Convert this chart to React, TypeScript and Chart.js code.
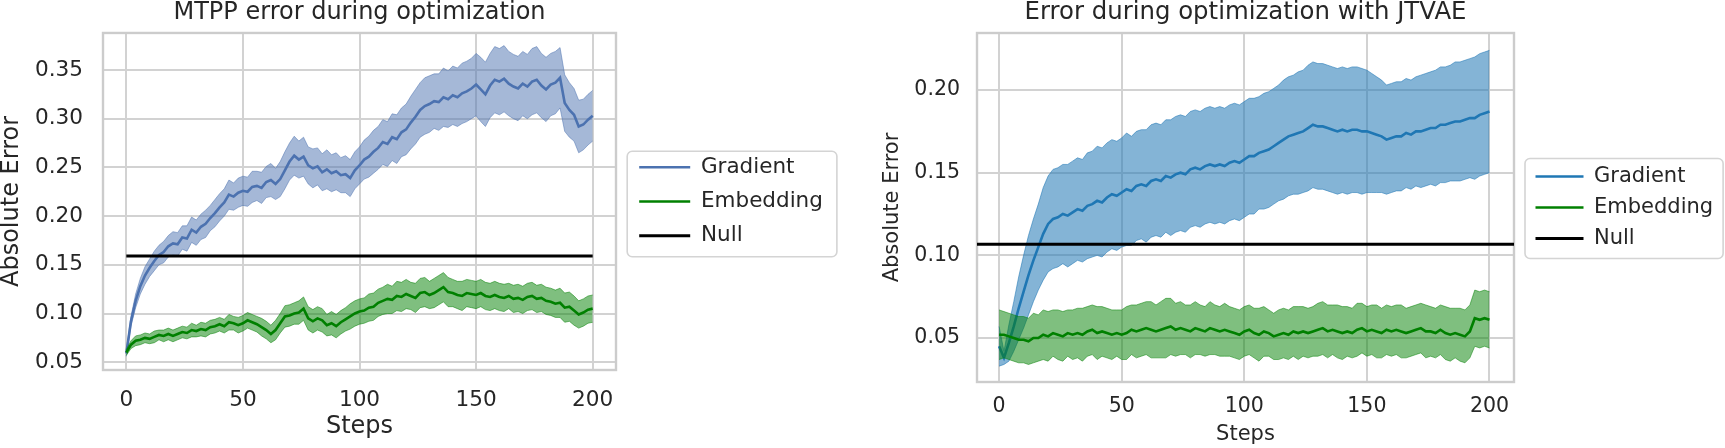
import { useEffect, useRef } from 'react';
import { Chart, registerables } from 'chart.js';

Chart.register(...registerables);
Chart.defaults.font.family = "'DejaVu Sans', sans-serif";
Chart.defaults.color = '#262626';

const TEXT = '#262626';
const GRID = '#d2d2d2';
const SPINE = '#cccccc';
const GREEN = '#008000';
const GREEN_BAND = 'rgba(0, 128, 0, 0.5)';

// optimisation steps (sampled every 2nd step)
const steps = [
  0, 2, 4, 6, 8, 10, 12, 14, 16, 18,
  20, 22, 24, 26, 28, 30, 32, 34, 36, 38,
  40, 42, 44, 46, 48, 50, 52, 54, 56, 58,
  60, 62, 64, 66, 68, 70, 72, 74, 76, 78,
  80, 82, 84, 86, 88, 90, 92, 94, 96, 98,
  100, 102, 104, 106, 108, 110, 112, 114, 116, 118,
  120, 122, 124, 126, 128, 130, 132, 134, 136, 138,
  140, 142, 144, 146, 148, 150, 152, 154, 156, 158,
  160, 162, 164, 166, 168, 170, 172, 174, 176, 178,
  180, 182, 184, 186, 188, 190, 192, 194, 196, 198,
  200,
];

const seriesNames = ['Gradient', 'Embedding', 'Null'];
const xTicks = [0, 50, 100, 150, 200];

// --- MTPP panel ---
const mtppGradient = [
  0.059, 0.092, 0.113, 0.128, 0.139, 0.147, 0.154, 0.160, 0.163, 0.169,
  0.172, 0.171, 0.178, 0.177, 0.186, 0.183, 0.189, 0.192, 0.198, 0.203,
  0.209, 0.214, 0.222, 0.220, 0.224, 0.226, 0.225, 0.230, 0.231, 0.229,
  0.235, 0.237, 0.233, 0.238, 0.247, 0.256, 0.262, 0.258, 0.261, 0.252,
  0.249, 0.251, 0.245, 0.248, 0.244, 0.246, 0.242, 0.243, 0.239, 0.247,
  0.252, 0.258, 0.261, 0.266, 0.270, 0.276, 0.274, 0.281, 0.279, 0.286,
  0.289, 0.296, 0.302, 0.309, 0.313, 0.315, 0.318, 0.317, 0.322, 0.320,
  0.324, 0.322, 0.326, 0.328, 0.331, 0.335, 0.330, 0.325, 0.334, 0.340,
  0.338, 0.341, 0.336, 0.333, 0.331, 0.336, 0.333, 0.338, 0.340, 0.334,
  0.330, 0.335, 0.337, 0.342, 0.316, 0.309, 0.304, 0.292, 0.294, 0.299,
  0.303,
];
const mtppGradientStd = [
  0.003, 0.005, 0.007, 0.008, 0.009, 0.009, 0.010, 0.010, 0.011, 0.011,
  0.012, 0.012, 0.012, 0.013, 0.013, 0.013, 0.013, 0.014, 0.013, 0.014,
  0.014, 0.014, 0.015, 0.014, 0.015, 0.015, 0.015, 0.016, 0.015, 0.016,
  0.016, 0.017, 0.016, 0.018, 0.019, 0.019, 0.020, 0.019, 0.020, 0.019,
  0.020, 0.019, 0.019, 0.020, 0.019, 0.019, 0.018, 0.019, 0.019, 0.019,
  0.019, 0.020, 0.021, 0.022, 0.022, 0.023, 0.023, 0.024, 0.025, 0.025,
  0.026, 0.027, 0.028, 0.028, 0.029, 0.029, 0.028, 0.029, 0.030, 0.029,
  0.030, 0.030, 0.031, 0.031, 0.031, 0.032, 0.033, 0.033, 0.033, 0.034,
  0.034, 0.034, 0.033, 0.033, 0.033, 0.033, 0.033, 0.034, 0.034, 0.033,
  0.033, 0.032, 0.032, 0.031, 0.029, 0.028, 0.027, 0.027, 0.026, 0.026,
  0.026,
];
const mtppEmbedding = [
  0.060, 0.068, 0.072, 0.073, 0.075, 0.074, 0.076, 0.078, 0.077, 0.079,
  0.077, 0.079, 0.081, 0.080, 0.083, 0.082, 0.084, 0.083, 0.086, 0.087,
  0.089, 0.087, 0.091, 0.090, 0.088, 0.090, 0.093, 0.091, 0.089, 0.086,
  0.083, 0.079, 0.083, 0.090, 0.097, 0.098, 0.100, 0.101, 0.105, 0.095,
  0.092, 0.095, 0.093, 0.088, 0.090, 0.087, 0.091, 0.094, 0.097, 0.100,
  0.102, 0.103, 0.106, 0.107, 0.111, 0.113, 0.115, 0.114, 0.118, 0.117,
  0.120, 0.118, 0.116, 0.121, 0.122, 0.119, 0.121, 0.124, 0.127, 0.122,
  0.121, 0.119, 0.118, 0.121, 0.120, 0.119, 0.121, 0.118, 0.117, 0.119,
  0.117, 0.116, 0.118, 0.115, 0.116, 0.114, 0.117, 0.118, 0.115, 0.116,
  0.113, 0.112, 0.110, 0.111, 0.106, 0.107, 0.103, 0.099, 0.101, 0.104,
  0.105,
];
const mtppEmbeddingStd = [
  0.003, 0.004, 0.005, 0.005, 0.005, 0.005, 0.006, 0.005, 0.006, 0.006,
  0.006, 0.006, 0.006, 0.006, 0.007, 0.006, 0.007, 0.007, 0.007, 0.007,
  0.007, 0.007, 0.008, 0.007, 0.008, 0.008, 0.008, 0.008, 0.008, 0.009,
  0.009, 0.009, 0.010, 0.010, 0.011, 0.011, 0.011, 0.012, 0.012, 0.012,
  0.012, 0.012, 0.012, 0.011, 0.012, 0.012, 0.012, 0.012, 0.013, 0.013,
  0.013, 0.013, 0.014, 0.014, 0.014, 0.014, 0.015, 0.014, 0.015, 0.015,
  0.015, 0.014, 0.015, 0.015, 0.015, 0.014, 0.015, 0.015, 0.015, 0.015,
  0.014, 0.014, 0.015, 0.014, 0.014, 0.014, 0.014, 0.014, 0.014, 0.014,
  0.014, 0.014, 0.013, 0.014, 0.014, 0.014, 0.014, 0.014, 0.014, 0.014,
  0.014, 0.014, 0.014, 0.015, 0.015, 0.015, 0.015, 0.014, 0.014, 0.014,
  0.014,
];
const mtppNull = 0.159;
const mtppNullSpan = [0, 200];
const mtppXLimits = [-10, 210];
const mtppYLimits = [0.042, 0.388];
const mtppYTicks = [0.05, 0.1, 0.15, 0.2, 0.25, 0.3, 0.35];

// --- JTVAE panel ---
const jtvaeGradient = [
  0.045, 0.038, 0.047, 0.057, 0.068, 0.078, 0.088, 0.097, 0.105, 0.113,
  0.119, 0.122, 0.123, 0.125, 0.124, 0.126, 0.128, 0.127, 0.130, 0.131,
  0.133, 0.132, 0.135, 0.137, 0.136, 0.138, 0.140, 0.139, 0.142, 0.143,
  0.142, 0.145, 0.146, 0.145, 0.148, 0.147, 0.149, 0.150, 0.149, 0.152,
  0.153, 0.152, 0.154, 0.155, 0.154, 0.155, 0.154, 0.156, 0.157, 0.156,
  0.158, 0.160, 0.160, 0.162, 0.163, 0.164, 0.166, 0.168, 0.170, 0.172,
  0.173, 0.174, 0.175, 0.177, 0.179, 0.178, 0.178, 0.177, 0.176, 0.175,
  0.176, 0.175, 0.176, 0.176, 0.175, 0.175, 0.174, 0.173, 0.172, 0.170,
  0.171, 0.172, 0.172, 0.174, 0.173, 0.175, 0.175, 0.176, 0.177, 0.177,
  0.179, 0.179, 0.180, 0.181, 0.181, 0.182, 0.183, 0.183, 0.185, 0.186,
  0.187,
];
const jtvaeGradientStd = [
  0.012, 0.004, 0.011, 0.015, 0.019, 0.022, 0.024, 0.025, 0.026, 0.028,
  0.029, 0.030, 0.030, 0.030, 0.031, 0.031, 0.031, 0.031, 0.032, 0.032,
  0.033, 0.033, 0.033, 0.033, 0.033, 0.033, 0.034, 0.033, 0.033, 0.033,
  0.034, 0.034, 0.034, 0.034, 0.034, 0.035, 0.035, 0.035, 0.035, 0.035,
  0.035, 0.035, 0.035, 0.035, 0.035, 0.035, 0.035, 0.035, 0.035, 0.035,
  0.035, 0.035, 0.035, 0.034, 0.035, 0.035, 0.035, 0.035, 0.036, 0.036,
  0.036, 0.037, 0.037, 0.038, 0.038, 0.038, 0.038, 0.038, 0.038, 0.038,
  0.038, 0.038, 0.038, 0.038, 0.038, 0.037, 0.036, 0.035, 0.034, 0.033,
  0.033, 0.033, 0.033, 0.033, 0.033, 0.033, 0.034, 0.034, 0.034, 0.035,
  0.035, 0.035, 0.035, 0.036, 0.036, 0.036, 0.036, 0.037, 0.037, 0.037,
  0.037,
];
const jtvaeEmbedding = [
  0.052, 0.052, 0.051, 0.050, 0.049, 0.049, 0.048, 0.050, 0.050, 0.052,
  0.051, 0.053, 0.052, 0.051, 0.053, 0.052, 0.053, 0.052, 0.054, 0.055,
  0.053, 0.054, 0.053, 0.052, 0.053, 0.052, 0.053, 0.055, 0.054, 0.055,
  0.056, 0.055, 0.054, 0.055, 0.056, 0.057, 0.055, 0.056, 0.055, 0.054,
  0.056, 0.055, 0.054, 0.056, 0.055, 0.054, 0.055, 0.054, 0.053, 0.052,
  0.054, 0.055, 0.053, 0.052, 0.054, 0.053, 0.051, 0.052, 0.053, 0.052,
  0.054, 0.053, 0.054, 0.053, 0.054, 0.055, 0.056, 0.054, 0.055, 0.054,
  0.053, 0.054, 0.053, 0.055, 0.056, 0.054, 0.055, 0.054, 0.053, 0.055,
  0.054, 0.055, 0.054, 0.053, 0.054, 0.055, 0.056, 0.054, 0.054, 0.053,
  0.055, 0.053, 0.052, 0.053, 0.052, 0.051, 0.054, 0.062, 0.061, 0.062,
  0.061,
];
const jtvaeEmbeddingStd = [
  0.015, 0.014, 0.014, 0.014, 0.014, 0.014, 0.014, 0.015, 0.014, 0.015,
  0.015, 0.014, 0.015, 0.015, 0.014, 0.015, 0.015, 0.016, 0.015, 0.015,
  0.016, 0.015, 0.015, 0.015, 0.014, 0.015, 0.016, 0.015, 0.016, 0.016,
  0.016, 0.017, 0.016, 0.017, 0.018, 0.017, 0.016, 0.016, 0.015, 0.016,
  0.016, 0.015, 0.015, 0.016, 0.015, 0.015, 0.016, 0.015, 0.015, 0.015,
  0.015, 0.015, 0.015, 0.016, 0.015, 0.014, 0.014, 0.015, 0.015, 0.015,
  0.015, 0.016, 0.015, 0.015, 0.015, 0.016, 0.016, 0.016, 0.015, 0.016,
  0.016, 0.015, 0.015, 0.016, 0.015, 0.015, 0.015, 0.016, 0.015, 0.015,
  0.015, 0.015, 0.016, 0.015, 0.015, 0.015, 0.015, 0.016, 0.015, 0.015,
  0.015, 0.016, 0.016, 0.015, 0.016, 0.016, 0.016, 0.017, 0.017, 0.017,
  0.017,
];
const jtvaeNull = 0.1067;
const jtvaeXLimits = [-9, 210];
const jtvaeNullSpan = jtvaeXLimits; // axhline across the whole axes
const jtvaeYLimits = [0.0234, 0.2345];
const jtvaeYTicks = [0.05, 0.1, 0.15, 0.2];

// draws the light-grey axes frame and the rounded legend box
const framePlugin = {
  id: 'frame',
  beforeDatasetsDraw(chart: any) {
    const { ctx, chartArea: a } = chart;
    ctx.save();
    ctx.strokeStyle = SPINE;
    ctx.lineWidth = 2.4;
    ctx.strokeRect(a.left, a.top, a.right - a.left, a.bottom - a.top);
    ctx.restore();
  },
  afterDraw(chart: any, _args: any, opts: any) {
    const boxes = chart.legend?.legendHitBoxes;
    if (!boxes || !boxes.length) return;
    const { ctx } = chart;
    const first = boxes[0];
    const last = boxes[boxes.length - 1];
    const x0 = Math.min(...boxes.map((b: any) => b.left)) - opts.padL;
    const x1 = Math.max(...boxes.map((b: any) => b.left + b.width)) + opts.padR;
    const y0 = first.top + first.height / 2 - opts.padT;
    const y1 = last.top + last.height / 2 + opts.padB;
    ctx.save();
    ctx.strokeStyle = '#d4d4d4';
    ctx.lineWidth = 1.6;
    ctx.beginPath();
    ctx.roundRect(x0, y0, x1 - x0, y1 - y0, 5);
    ctx.stroke();
    ctx.restore();
  },
};

interface PanelProps {
  left: number;
  width: number;
  title: string;
  gradient: number[];
  gradientStd: number[];
  embedding: number[];
  embeddingStd: number[];
  nullLevel: number;
  nullSpan: number[];
  xLimits: number[];
  yLimits: number[];
  yTicks: number[];
  gradientColor: string;
  gradientBand: string;
  plotRight: number;
  titleSize: number;
  titlePad: { top: number; bottom: number };
  yAxisWidth: number;
  yTickPad: number;
  yTitleSize: number;
  yTitlePad: number;
  xAxisHeight: number;
  xTickPad: number;
  tickSize: number;
  xTitleSize: number;
  xTitlePad: number;
  legendSize: number;
  legendPad: number;
  legendLine: number;
  legendGap: number;
  legendFrame: { padL: number; padR: number; padT: number; padB: number };
}

function Panel(p: PanelProps) {
  const canvasRef = useRef<HTMLCanvasElement>(null);

  useEffect(() => {
    if (!canvasRef.current) return;

    const points = (ys: number[], sign = 0, err?: number[]) =>
      steps.map((x, i) => ({ x, y: ys[i] + sign * (err ? err[i] : 0) }));

    const config: any = {
      type: 'line',
      data: {
        datasets: [
          { label: seriesNames[0], data: points(p.gradient), borderColor: p.gradientColor, borderWidth: 2.6, order: 3 },
          { label: seriesNames[1], data: points(p.embedding), borderColor: GREEN, borderWidth: 2.6, order: 1 },
          {
            label: seriesNames[2],
            data: p.nullSpan.map((x) => ({ x, y: p.nullLevel })),
            borderColor: '#000000',
            borderWidth: 3,
            order: 0,
          },
          {
            label: 'gradient upper',
            data: points(p.gradient, 1, p.gradientStd),
            borderColor: p.gradientBand,
            backgroundColor: p.gradientBand,
            borderWidth: 1,
            fill: 4,
            order: 4,
          },
          { label: 'gradient lower', data: points(p.gradient, -1, p.gradientStd), borderColor: p.gradientBand, borderWidth: 1, fill: false, order: 4 },
          {
            label: 'embedding upper',
            data: points(p.embedding, 1, p.embeddingStd),
            borderColor: GREEN_BAND,
            backgroundColor: GREEN_BAND,
            borderWidth: 1,
            fill: 6,
            order: 2,
          },
          { label: 'embedding lower', data: points(p.embedding, -1, p.embeddingStd), borderColor: GREEN_BAND, borderWidth: 1, fill: false, order: 2 },
        ],
      },
      options: {
        animation: false,
        responsive: true,
        maintainAspectRatio: false,
        events: [],
        layout: { padding: { left: 0, right: 0, top: 0, bottom: 0 } },
        elements: { point: { radius: 0 }, line: { tension: 0 } },
        scales: {
          x: {
            type: 'linear',
            min: p.xLimits[0],
            max: p.xLimits[1],
            afterBuildTicks: (s: any) => { s.ticks = xTicks.map((value) => ({ value })); },
            afterFit: (s: any) => { s.height = p.xAxisHeight; },
            grid: { color: GRID, lineWidth: 2, drawTicks: false },
            border: { display: false },
            ticks: {
              padding: p.xTickPad,
              color: TEXT,
              font: { size: p.tickSize, lineHeight: 1.2 },
              maxRotation: 0,
              autoSkip: false,
              callback: (v: any) => String(v),
            },
            title: {
              display: true,
              text: 'Steps',
              color: TEXT,
              font: { size: p.xTitleSize, lineHeight: 1 },
              padding: { top: 0, bottom: p.xTitlePad },
            },
          },
          y: {
            type: 'linear',
            position: 'left',
            min: p.yLimits[0],
            max: p.yLimits[1],
            afterBuildTicks: (s: any) => { s.ticks = p.yTicks.map((value) => ({ value })); },
            afterFit: (s: any) => { s.width = p.yAxisWidth; },
            grid: { color: GRID, lineWidth: 2, drawTicks: false },
            border: { display: false },
            ticks: {
              padding: p.yTickPad,
              color: TEXT,
              font: { size: p.tickSize, lineHeight: 1.2 },
              autoSkip: false,
              callback: (v: any) => Number(v).toFixed(2),
            },
            title: {
              display: true,
              text: 'Absolute Error',
              color: TEXT,
              font: { size: p.yTitleSize, lineHeight: 1 },
              padding: { top: p.yTitlePad, bottom: 0 },
            },
          },
          // empty spacer between the axes frame and the legend
          gap: {
            type: 'linear',
            position: 'right',
            display: true,
            grid: { display: false, drawTicks: false },
            border: { display: false },
            ticks: { display: false },
            afterFit: (s: any) => { s.width = p.legendGap; },
          },
        },
        plugins: {
          title: {
            display: true,
            text: p.title,
            fullSize: false,
            color: TEXT,
            font: { size: p.titleSize, weight: 'normal', lineHeight: 1 },
            padding: p.titlePad,
          },
          legend: {
            position: 'right',
            align: 'center',
            fullSize: false,
            maxWidth: 400,
            labels: {
              usePointStyle: true,
              pointStyle: 'line',
              pointStyleWidth: p.legendLine,
              padding: p.legendPad,
              color: TEXT,
              font: { size: p.legendSize },
              filter: (item: any) => item.datasetIndex < 3,
              sort: (a: any, b: any) => a.datasetIndex - b.datasetIndex,
            },
          },
          tooltip: { enabled: false },
          frame: p.legendFrame,
        },
      },
      plugins: [framePlugin],
    };

    const chart = new Chart(canvasRef.current, config);
    // pull the axes' right edge onto its place, whatever width the legend text measured
    const shift = chart.chartArea.right - p.plotRight;
    if (Math.abs(shift) > 0.25) {
      config.options.layout.padding.right = shift;
      chart.update();
    }

    return () => {
      chart.destroy();
    };
  }, []);

  return (
    <div style={{ position: 'absolute', left: p.left, top: 0, width: p.width, height: 448 }}>
      <canvas ref={canvasRef} />
    </div>
  );
}

export default function App() {
  return (
    <div style={{ position: 'absolute', left: 0, top: 0, width: 1725, height: 448, background: '#ffffff', overflow: 'hidden' }}>
      <Panel
        left={0}
        width={860}
        title="MTPP error during optimization"
        gradient={mtppGradient}
        gradientStd={mtppGradientStd}
        embedding={mtppEmbedding}
        embeddingStd={mtppEmbeddingStd}
        nullLevel={mtppNull}
        nullSpan={mtppNullSpan}
        xLimits={mtppXLimits}
        yLimits={mtppYLimits}
        yTicks={mtppYTicks}
        gradientColor="#4c72b0"
        gradientBand="rgba(76, 114, 176, 0.5)"
        plotRight={616}
        titleSize={24}
        titlePad={{ top: 0, bottom: 8 }}
        yAxisWidth={103}
        yTickPad={20}
        yTitleSize={24}
        yTitlePad={0}
        xAxisHeight={78}
        xTickPad={17}
        tickSize={21.6}
        xTitleSize={24}
        xTitlePad={9}
        legendSize={21.5}
        legendPad={12.7}
        legendLine={51}
        legendGap={10.5}
        legendFrame={{ padL: 12, padR: 14, padT: 16, padB: 21 }}
      />
      <Panel
        left={860}
        width={865}
        title="Error during optimization with JTVAE"
        gradient={jtvaeGradient}
        gradientStd={jtvaeGradientStd}
        embedding={jtvaeEmbedding}
        embeddingStd={jtvaeEmbeddingStd}
        nullLevel={jtvaeNull}
        nullSpan={jtvaeNullSpan}
        xLimits={jtvaeXLimits}
        yLimits={jtvaeYLimits}
        yTicks={jtvaeYTicks}
        gradientColor="#1f77b4"
        gradientBand="rgba(31, 119, 180, 0.55)"
        plotRight={654}
        titleSize={24.4}
        titlePad={{ top: 0.3, bottom: 8.3 }}
        yAxisWidth={117}
        yTickPad={17}
        yTitleSize={21}
        yTitlePad={22.5}
        xAxisHeight={66}
        xTickPad={12.7}
        tickSize={20.5}
        xTitleSize={21}
        xTitlePad={2.5}
        legendSize={21}
        legendPad={10}
        legendLine={48}
        legendGap={11.5}
        legendFrame={{ padL: 10.5, padR: 10, padT: 18, padB: 20 }}
      />
    </div>
  );
}
